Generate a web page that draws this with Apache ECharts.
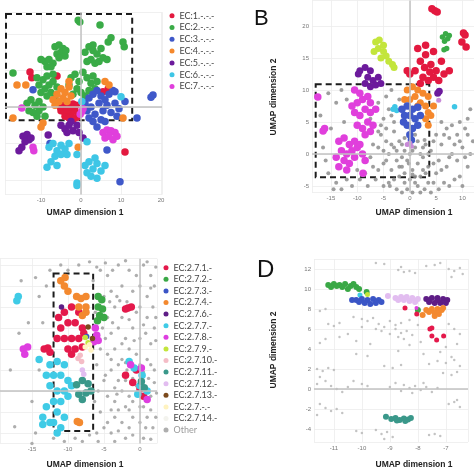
<!DOCTYPE html>
<html>
<head>
<meta charset="utf-8">
<script src="https://cdn.jsdelivr.net/npm/echarts@6/dist/echarts.min.js"></script>
<style>
  html, body { margin: 0; padding: 0; background: #fff; }
  #chart { width: 474px; height: 474px; }
</style>
</head>
<body>
<div id="chart"></div>
<script>
// ---- panel A : EC top level classes ----
const namesA = ['EC:1.-.-.-', 'EC:2.-.-.-', 'EC:3.-.-.-', 'EC:4.-.-.-', 'EC:5.-.-.-', 'EC:6.-.-.-', 'EC:7.-.-.-'];
const colorsA = ['#e3193f', '#3aab47', '#3f58c9', '#f5882c', '#6c1a9c', '#3ec6e6', '#e03fdc'];
const a1 = [[-5, -1], [-4.5, 0.5], [-4, -2.5], [-3.5, 1], [-3, -0.5], [-2.5, -2], [-2, 0.8], [-1.5, -1], [-1, -2.8], [-4, -1.5], [-3, -3], [-2, -3.5], [-5.2, 0], [-1.2, 0.5], [-3.5, -0.8], [-2.5, 0],
  [-12.75, 9.6], [-12.3, 8], [6.8, 5], [11, -12.3], [5.5, 4.2], [-6, 8.5]];
const a2 = [[-6.5, 16.5], [-5.5, 17], [-4.5, 16], [-5, 15], [-6, 14.5], [-4, 14], [-5.5, 13.5], [-3.8, 15.5],
  [-9, 12.5], [-8, 13], [-7, 12], [-8.5, 11], [-7.5, 11], [-10, 13],
  [1, 15], [2, 16.5], [3, 15.5], [4, 14.5], [5, 16], [2.5, 13], [3.5, 12], [1.5, 12.5], [4.5, 12.5], [5.5, 13.5], [3, 17],
  [-10.5, 6], [-9.5, 7.5], [-8.5, 8.5], [-9, 5], [-8, 6], [-7, 7], [-6, 5.5], [-7.5, 4], [-8.5, 3], [-10, 4], [-6.5, 3], [-11, 8], [-7, 9],
  [-2.5, 8], [-1.5, 9], [-0.5, 7], [0.5, 9.5], [1.5, 8], [2.5, 6.5], [3.5, 5], [-1, 5], [0, 4], [1, 3], [2, 4.5], [-2, 3.5], [3, 8.5], [4, 7], [-3, 6],
  [-13.5, 1], [-12.5, 2], [-11.5, 0.5], [-10.5, -1], [-9.5, 0], [-12, -1.5], [-10.5, 1.5], [-9, -2.5], [-13, -1], [-11, -2.5],
  [-0.7, 23.8], [-0.3, 23.3], [4.75, 22.5], [6.8, 17.8], [10.5, 17.8], [10.8, 16.5], [6.5, 13], [-17, 9.3], [7.5, 19]];
const a3 = [[1, 1], [2, 2.5], [3, 3.5], [4, 4.5], [5, 3], [6, 2], [7, 3.5], [8, 4.5], [1.5, -1], [2.5, 0], [3.5, -2], [4.5, 1], [5.5, -1], [6.5, 0.5], [7.5, -1.5], [8.5, 1], [9.5, -0.5], [3, -4], [4, -5.5], [5, -3.5], [2, -3], [6, -4],
  [-12, 4.7], [8.5, 4.2], [14, -3], [6.5, -11.8], [-7.75, -10], [9.75, -20.5], [18, 3.3], [17.5, 2.7], [9, -2.5], [11, 1.5]];
const a4 = [[-7, 2], [-6, 3.5], [-5, 5], [-4, 4], [-3, 5.5], [-5.5, 1.5], [-4.5, 2.5], [-3.5, 1.5], [-2.5, 3], [-6.5, 0.5], [-3, 7],
  [-16, 6], [-13.8, 6], [-17, -3], [-9.5, -4.4], [-0.7, -11], [6, 7], [10.5, -3], [-10, -5.5], [7, 6]];
const a5 = [[-5, -5], [-4, -6], [-3, -5], [-2, -6.5], [-1, -5], [-3.5, -7], [-0.5, -7], [-2.5, -4],
  [-14.5, -8], [-13.5, -7.5], [-13, -9], [-14, -9.5], [-12.5, -8.5],
  [-8.2, -7.7], [-14.8, -11], [-15.5, -12], [0.5, -8.5]];
const a6 = [[-8, -11], [-7, -10], [-6, -12], [-5, -10.5], [-4, -11.5], [-3, -10], [-6.5, -13.5], [-5, -13], [-7.5, -15], [-8.5, -16.5], [-6, -16], [-3.5, -13],
  [1, -16], [2, -15], [3, -17], [4, -15.5], [5, -17.5], [6, -16], [2.5, -19], [4, -19.5], [3.5, -14], [1.5, -18],
  [-1, -20.8], [-1, -21.5], [0.2, 1.5], [1.5, -9.5], [10, 2.8], [-1, -13]];
const a7 = [[5.5, -7], [6.5, -6.3], [7.5, -6.5], [8.5, -7], [6, -8.5], [7, -8], [8, -9], [9, -8],
  [-12, -11], [-11.8, -12], [0.2, -1.3], [0.5, -0.5], [-0.2, -2], [-14.8, -0.3]];
const boxA = [[-18.75, 25.5], [12.8, -3.6]];

// ---- panel B ----
const bGray = [[-3, 1], [-2, 2], [-1, 0.5], [0, 0], [1, 1], [2, 0], [3, 1.5], [-2.5, -1], [-1.5, -2], [-0.5, -1], [0.5, -2.5], [1.5, -1.5], [2.5, -0.5], [3.5, -2], [-3.5, -2.5], [-4, 0], [-1, 2.5], [1, 3], [-2, -3.5], [0, -4], [2, -3.5], [4, 0.5], [-4.5, 2], [-3, 3.5], [-5, -1.5], [-6, 1], [-5.5, 3], [-7, -2], [-6.5, -4], [-4, -4.5], [-2.5, -5.5], [-0.5, -5.5], [1.5, -5], [3.5, -4.5], [5, -3], [5.5, -1], [6, 1.5], [5, 3], [7, -2], [8, 0], [7.5, 2.5], [9, -1], [10, 1], [11, -2], [9, 3], [8, 4.5], [10.5, 4], [11, 5.5], [6.5, -4.5], [8.5, -4], [10, -5], [4, -6], [-8, -5], [-9.5, -4], [-11, -5], [-14, -4.5], [-16, -1], [-15, 4], [-14, 8], [-12.5, 5], [-13, 10], [-17, 6], [-5, 5.5], [-4, 7], [-6, 8], [-3.5, 10], [-14.5, -5.5], [-3, 5], [-5.5, 4.5], [0.5, -3.2], [-1.5, 1.5], [2.8, 2.2], [4.5, -1.5], [-0.2, -1.5], [12, 2], [11.5, 7], [6, 5], [2, -6],
  [-2.5, 0.5], [-1.5, -0.5], [-0.5, 1.5], [0.5, 0.5], [1.5, 2], [2.5, 1], [3.5, 0], [-3.5, 1.5], [-2, -2], [-1, -3], [1, -3.5], [2.5, -2.5], [-1, -4.5], [1, -4.5], [-3, -4], [3, -3], [-4.5, -1], [-5, 0.5], [-3.8, -5], [-1.5, -6], [0.5, -6], [2.8, -5.5], [4.5, -4.5], [6, -2.5], [7.5, -0.5], [6.5, 3], [4.5, 2], [8.5, 1.5], [9.5, 2], [10.5, -0.5], [11.5, 0], [9.5, -3.5], [7.5, -5], [5.5, -5.5], [-6, -2.5], [-7.5, -0.5], [-8.5, -3], [-10, -2.5], [-5, -5], [-7, 1.5], [-7.5, 5.5], [-6, 3.5], [-4.5, 4], [-3.5, 6], [-2, 8.5], [-4.5, 9], [-12, -4], [-13, -5.5], [-15.5, -3], [-12, 8.5], [-15.5, 9.5], [-16.5, 1], [9.5, 5], [7, 4], [11, 3]];
const bRed = [[4.75, 22.4], [4.2, 22.7], [5.2, 22.2], [10.5, 18.6], [9.9, 17.5], [10.7, 16.7], [10.2, 18.9],
  [1, 13], [2, 14.5], [3, 15.5], [4, 14], [5, 13], [6, 14.5], [2.5, 12], [3.5, 11.5], [4.5, 12], [5.5, 11.5], [1.5, 16.5], [3, 17], [4.5, 16], [6.5, 12.5], [7.5, 13], [-0.5, 13], [0, 12.5], [2, 11], [3.8, 12.8], [2.8, 13.5]];
const bGreen = [[6.2, 18.3], [6.8, 18.8], [7.2, 18], [6.6, 17.6], [7.5, 18.5], [7, 16.5], [6.5, 16.3]];
const bLime = [[-6.5, 17.5], [-5.8, 17.8], [-6, 16.5], [-5, 16], [-5.5, 15], [-4.5, 15.3], [-4, 14.5], [-3.3, 14], [-6.8, 16], [-3, 13.5], [-5, 17]];
const bPurple = [[-9.5, 13], [-8.5, 13.5], [-7.5, 13], [-8, 12], [-7, 11.5], [-6, 12], [-8.5, 11], [-7.5, 10.5], [-6.5, 10.8], [-9.8, 12.5], [-5.5, 11], [5.3, 9.5], [5.6, 9.8]];
const bOrange = [[-0.5, 10], [0.5, 10.5], [1.5, 10], [2.5, 9.5], [-1, 8.5], [0, 8.5], [1, 9], [2, 8], [3, 7.5], [3.5, 9], [1.5, 7.5], [3.5, 6.5], [3, 5.5], [4, 6], [4.5, 7.5], [3.5, 4.5]];
const bCyan = [[-2.85, 7.4], [-3.2, 7], [-2.5, 6.8], [8.5, 7.4]];
const bBlue = [[-1.5, 7], [-0.5, 7.5], [0.5, 7], [1.5, 7.3], [-1, 6], [0, 6], [1, 5.5], [2, 6], [-0.5, 4.5], [0.5, 4], [1.5, 4.5], [0, 3], [0.3, 2.2], [-1.2, 5]];
const bLilac = [[0, 1.7], [0.3, 1.2], [-0.5, 1.5], [5.5, 8.4]];
const bMagenta = [[-10.5, 10], [-9.5, 9.5], [-10, 8], [-9, 8.5], [-8, 9], [-7.5, 8], [-10.5, 6.5], [-9.5, 6], [-8.5, 7], [-7.5, 6.5], [-6.5, 7], [-10, 4.5], [-9, 4], [-8, 5], [-7, 4.5], [-8.5, 3], [-7.5, 3.5], [-11, 7.5],
  [-13.5, 2], [-12.5, 2.5], [-11.5, 1.5], [-10.5, 2], [-13, 0.5], [-12, 0], [-11, 0.5], [-10, 1], [-12.5, -1], [-11.5, -1.5], [-10.5, -0.5], [-9, 0], [-13.5, -2], [-12, -2.5], [-9.5, 1.5], [-14, -0.5], [-8.5, -1],
  [-17.5, 8.9], [-16.2, 4], [-16.5, 3.6], [-8.9, -3]];
const boxB = [[-17.9, 10.9], [3.7, -3.65]];

// ---- panel C : EC:2.7 sub-classes ----
const namesC = ['EC:2.7.1.-', 'EC:2.7.2.-', 'EC:2.7.3.-', 'EC:2.7.4.-', 'EC:2.7.6.-', 'EC:2.7.7.-', 'EC:2.7.8.-', 'EC:2.7.9.-', 'EC:2.7.10.-', 'EC:2.7.11.-', 'EC:2.7.12.-', 'EC:2.7.13.-', 'EC:2.7.-.-', 'EC:2.7.14.-', 'Other'];
const colorsC = ['#e4194b', '#3aa846', '#3a55c6', '#f3892f', '#5e1d86', '#3fcbe6', '#de3ee0', '#c3e53c', '#f4bcc6', '#3a988a', '#e2bdf0', '#7b4a1c', '#fff3c0', '#f3f3ee', '#b5b5b5'];
const c1 = [[-11.3, 7], [-10.5, 7.5], [-9.5, 8], [-8.5, 7.5], [-11, 6], [-10, 6.5], [-9, 6.5], [-8, 6], [-10.5, 5], [-9.5, 5], [-8.5, 5], [-7.8, 5.5], [-10, 4], [-9, 4], [-8, 4.2], [-9.5, 3.5], [-11.5, 5],
  [-12.8, 4.1], [-13.3, 4], [-12.5, 3.7], [-1.65, 7.9], [-1.2, 8], [-2, 7.8], [-2, 1.5], [-1, 0.8], [0, 0.2], [-0.5, 2], [0.5, -0.5]];
const c2 = [[-5.8, 9], [-5.3, 8.7], [-5.8, 8], [-5.2, 7.8], [-5.6, 7.2], [-5, 7], [-5.9, 6.7]];
const c3 = [[-7.4, 5.2]];
const c4 = [[-11, 10.5], [-10.5, 10], [-10, 9.5], [-10.4, 10.8], [-8.8, 9], [-8.2, 8.8], [-7.5, 9], [-8.5, 8], [-7.5, 8], [-8, 7.2], [-7.5, 7.5], [-8.7, -2.9], [-8.4, -3]];
const c6 = [[-10.9, 8.0]];
const c7 = [[-16.9, 9], [-17.1, 8.6], [-12.5, 2.5], [-11.5, 2.8], [-10.5, 2.5], [-12, 1.5], [-11, 1.5], [-10, 1], [-12.5, 0.5], [-11.5, 0], [-10.5, 0], [-9.5, 0.5], [-12, -1], [-11, -1], [-10, -0.5], [-13, 1.5], [-11.5, -2], [-10.5, -2.5], [-13, -1.5], [-13.5, -2.5], [-12.5, -3], [-13.5, -3.2], [-11, -3.5], [-11.5, -4], [-12, -3], [-14, 3],
  [-1.5, 2.8], [-0.8, 2.2], [0.3, 1.5], [0, 0.5], [-0.3, -0.3], [1, 0]];
const c8 = [[-6.2, 6], [-6, 5.3], [-6.4, 4.7], [-5.8, 4.8], [-16.2, 4], [-15.6, 4.2], [-16, 3.5], [-1.3, 2.5], [0.2, 2.2], [1, -0.8]];
const c9 = [[-7.6, 5.1], [-7.2, 4.6]];
const c10 = [[-8.3, 3.4], [-8.1, 2.8], [-8.6, 3.1]];
const c11 = [[-8.8, 0.6], [-8, 1], [-7.2, 0.7], [-8.5, -0.3], [-7.5, -0.2], [-6.8, 0], [-8, -0.8], [0.2, 0.9], [0.6, 0.3]];
const c12 = [[-8, 2], [-7.8, 1.6]];
const c13 = [[-7.2, 6.1], [-6.6, 5.0]];
const cDash = [[-7.6, 4.2], [-7, 4.4], [-6.8, 3.9]];
const c14 = [];
const cOther = [[-4.5, 11], [-3, 12], [-1.5, 11.5], [0.5, 12], [1.5, 11], [-4, 9.5], [-2.5, 10], [-1, 9.5], [1, 9], [2, 10], [-4.5, 7], [-3.5, 8], [-2.5, 7], [-0.5, 7.5], [1, 7], [2, 6], [-4, 5.5], [-3, 6], [-2, 5], [-1, 6], [0, 5], [1.5, 4.5], [-4.5, 3.5], [-3.5, 4], [-2.5, 3], [-1.5, 4], [-0.5, 3.5], [1, 3], [2, 2], [-4, 2], [-3, 1], [-2.5, 0], [-1.5, -0.5], [-3.5, -1], [-4.5, -0.5], [-2, -1.5], [-1, -1], [0.5, -1.5], [1.5, -0.5], [2, 0.8], [-3.5, -2.5], [-2.5, -3], [-1, -2.5], [0, -3], [1, -2.5], [-4, -4], [-2, -4.5], [0.5, -4.5], [1.8, -3.5], [-5.5, -2], [-5, 1], [-5.5, 4], [-5, 9], [-5.5, 11.5], [-3, 2.5], [-2, 1], [-0.5, 0.5], [0.5, 1.8], [-3.2, -0.3], [-1.8, 2],
  [-4.8, 12.2], [-3.8, 11.5], [-2, 12.4], [-0.5, 11], [1, 12.3], [2.2, 11.8], [-3.2, 9], [-1.8, 8.5], [0, 10], [1.5, 9.8], [-4.2, 8.5], [-2.8, 8.6], [0, 8], [1.8, 8], [-3.8, 6.5], [-1.5, 6.8], [0.5, 6.3], [2.2, 7], [-4.8, 5], [-2.5, 4.5], [-0.8, 4.8], [0.8, 5.5], [2.2, 4.8], [-4, 3], [-2, 2.7], [0, 2.5], [1.5, 2.5], [-4.8, 1.5], [-3.5, 0.3], [-1, 1.2], [1.2, 1.2], [2.3, -0.2], [-4, -1.8], [-3, -1.8], [-1.5, -1.8], [0, -1.5], [1.5, -1.8], [-4.5, -3], [-3, -3.8], [-1.5, -3.5], [0.8, -3.5], [2.2, -2.5], [-3.5, -4.8], [-1, -4.2], [1.5, -4.6], [-5.2, 6], [-5, -3.5], [-5.8, 0], [-6, 2.5], [-6.2, 7.5], [-6.3, -1],
  [-13, 10], [-14, 9], [-15.5, 6.5], [-13.5, 6.5], [-17.4, -3.4], [-7, 12.3], [-8.5, 12], [-10, 11.5], [-12, -4.5], [-15, -5], [-9, -4.5], [-6, -4], [-6.5, 10.5], [-14, 2], [-6, 11.8],
  [-16.5, 10.5], [-14.5, 10.8], [-12.5, 11.5], [-11, 12], [-16.8, 5.5], [-18, 2], [-15, -1], [-14.5, -4], [-10.5, -4.8], [-8, -4.8], [-7, -4.2], [-5.8, -4.8]];
const boxC = [[-12.0, 11.2], [-6.5, -3.8]];

// ---- panel D ----
const dGray = [[-9.5, 12.6], [-9.2, 12.5], [-8.7, 11.9], [-8.5, 11.7], [-8.3, 11.8], [-8.1, 11.6], [-7.7, 12.3], [-7.4, 12.4], [-7.2, 12.6], [-6.9, 12], [-6.7, 11.8], [-6.5, 12.1], [-6.4, 11.5], [-6.8, 11.2], [-8.6, 12.2],
  [-11.2, 6.5], [-11, 6.3], [-10.8, 6.6], [-11.5, 7.8], [-11.3, 8],
  [-10.3, 7.2], [-10, 7.0], [-9.8, 6.8], [-9.6, 7.1], [-9.4, 6.5], [-9.2, 6.2], [-9, 6.8], [-8.8, 6.0], [-8.6, 5.6], [-8.5, 5.0], [-8.4, 5.8], [-8.2, 5.4], [-8.7, 5.2], [-9, 5.5], [-9.3, 5.8], [-10.5, 5.5], [-10.8, 5.2], [-11.3, 5.0], [-11.5, 4.6], [-10.2, 4.8], [-9.7, 4.5], [-8.3, 4.4], [-7.9, 4.7], [-8.0, 6.4], [-8.8, 6.4], [-9.5, 6.0], [-10.0, 6.2], [-8.6, 6.6], [-8.3, 6.9], [-6.9, 6.5], [-6.7, 6.0], [-6.5, 5.5], [-7, 4.2], [-6.6, 4.5],
  [-10.2, 3.5], [-9.8, 3.3], [-8.7, 3.8], [-7.8, 3.5], [-7.2, 3.7], [-6.8, 3.2], [-9.2, 2.3], [-8.9, 2.1], [-8.6, 2.4], [-7.6, 2.5], [-7.3, 2.8], [-7, 2.6], [-6.7, 2.9], [-6.5, 2.3], [-7.1, 1.6], [-6.8, 1.4], [-6.6, 1.7],
  [-11.6, 2], [-11.4, 1.8], [-11.2, 2.1], [-11, 1.9], [-11.5, 1.2], [-11.3, 0.8], [-11.1, 0.3], [-10.9, 0], [-10.7, -0.3], [-10.5, 0.2], [-11.6, 0.5], [-10.3, 0.8], [-10, 0.5], [-9.8, 0.3],
  [-8.5, 0.4], [-8.3, 0.1], [-8.1, 0.3], [-7.9, -0.1], [-7.7, 0.2], [-8.2, -0.4], [-7.8, 0.6], [-8.6, -0.2], [-7.5, -0.3], [-7.3, 0.1], [-9, 0.2], [-8.8, 0.6],
  [-11.5, -1.5], [-11.3, -1.9], [-11.1, -2.2], [-10.9, -2.0], [-10.7, -2.4], [-11.6, -2.6], [-6.9, -1.5], [-6.7, -1.3], [-6.5, -1.8], [-6.6, -1.1],
  [-9.5, -4.1], [-9.3, -4.5], [-9.1, -4.3], [-8.9, -4.8], [-9.2, -5], [-10.2, -4.2], [-10, -4.4], [-7.6, -4.6], [-7.4, -4.5], [-7.2, -4.7]];
const dGreen = [[-11.2, 10.4], [-11, 10.5], [-10.8, 10.4], [-10.6, 10.5], [-10.4, 10.3], [-10.2, 10.2], [-11.1, 10.2], [-10.7, 10.2], [-10.3, 10.5], [-10.1, 10], [-10.5, 10], [-10.9, 10.3], [-9.83, 9.7], [-8.0, 7.9]];
const dCyan = [[-10.07, 9.4]];
const dLime = [[-9.8, 9.45]];
const dBlue = [[-10.2, 8.9], [-10, 9], [-9.8, 8.9], [-9.6, 9], [-9.4, 8.9], [-9.3, 8.7], [-9.5, 8.6], [-9.7, 8.5], [-9.9, 8.6], [-10.1, 8.7], [-10.35, 8.9]];
const dLilac = [[-9.07, 9.3], [-8.8, 9.1], [-8.6, 9.2], [-8.4, 9.2], [-8.2, 9.1], [-8, 9], [-8.3, 8.8], [-8.5, 8.9], [-8.7, 8.9], [-8.1, 8.7]];
const dPurple = [[-7.7, 9], [-7.5, 9.1], [-7.3, 9.1], [-7.1, 9], [-6.95, 8.9], [-7.2, 8.6], [-7.4, 8.6], [-7.6, 8.7], [-7.0, 8.6], [-7.3, 8.9]];
const dOrange = [[-7.7, 7.9], [-7.5, 8], [-7.3, 8], [-7.15, 7.9], [-7.4, 7.6], [-7.6, 7.7], [-7.25, 7.5], [-7.4, 7.3], [-7.83, 7.4], [-7.1, 8.1]];
const dRed = [[-8.46, 8.1], [-8.04, 7.5], [-7.5, 6.1], [-7.57, 6.0], [-7.5, 5.3], [-7.33, 4.9], [-7.08, 5.3]];
const dMagenta = [[-8.05, 8.1]];
const dTeal = [[-9.14, -2.77], [-8.95, -3], [-8.8, -2.9], [-8.65, -3.1], [-8.5, -2.95], [-8.35, -3.05], [-8.25, -2.9], [-8.75, -3.15], [-8.45, -3.2]];

function sc(name, data, color, gi, size, opacity) {
  return {
    name: name, type: 'scatter', xAxisIndex: gi, yAxisIndex: gi, data: data,
    symbolSize: size, silent: true,
    itemStyle: { color: color, opacity: opacity || 1 }
  };
}
function zeroLines(both) {
  return {
    silent: true, symbol: 'none', label: { show: false },
    lineStyle: { color: '#c2c2c2', width: 1.5, type: 'solid' },
    data: both ? [{ xAxis: 0 }, { yAxis: 0 }] : [{ yAxis: 0 }]
  };
}
function box(b) {
  return {
    silent: true, label: { show: false },
    itemStyle: { color: 'rgba(0,0,0,0)', borderColor: '#1c1c1c', borderWidth: 2, borderType: [6, 4] },
    data: [[{ coord: b[0] }, { coord: b[1] }]]
  };
}

const dataA = [a1, a2, a3, a4, a5, a6, a7];
const dataC = [c1, c2, c3, c4, c6, c7, c8, c9, c10, c11, c12, c13, cDash, c14, cOther];

let series = [];
// A
dataA.forEach(function (d, i) { series.push(sc(namesA[i], d, colorsA[i], 0, 7.5)); });
series[0].markLine = zeroLines(true);
series[0].markArea = box(boxA);
// B
let bFirst = series.length;
series.push(sc('B gray', bGray, '#8d8d8d', 1, 4, 0.85));
series.push(sc('B red', bRed, colorsA[0], 1, 7.5));
series.push(sc('B green', bGreen, colorsA[1], 1, 5.5));
series.push(sc('B lime', bLime, '#c3e53c', 1, 7));
series.push(sc('B purple', bPurple, colorsA[4], 1, 7));
series.push(sc('B orange', bOrange, colorsA[3], 1, 7));
series.push(sc('B cyan', bCyan, colorsA[5], 1, 5.5));
series.push(sc('B blue', bBlue, colorsA[2], 1, 7.5));
series.push(sc('B lilac', bLilac, '#c88ad8', 1, 5));
series.push(sc('B magenta', bMagenta, colorsA[6], 1, 7.5));
series[bFirst].markLine = zeroLines(true);
series[bFirst].markArea = box(boxB);
// C : gray first, then coloured
let cFirst = series.length;
series.push(sc('Other', cOther, '#9a9a9a', 2, 3.4, 0.8));
dataC.forEach(function (d, i) {
  if (namesC[i] === 'Other') return;
  let small = d.length < 4 ? 5.5 : 7.5;
  series.push(sc(namesC[i], d, colorsC[i], 2, small));
});
series[cFirst].markLine = zeroLines(true);
series[cFirst].markArea = box(boxC);
// D
let dFirst = series.length;
series.push(sc('D gray', dGray, '#b4b4b4', 3, 2.5, 0.8));
series.push(sc('D green', dGreen, colorsC[1], 3, 6));
series.push(sc('D cyan', dCyan, colorsC[5], 3, 5));
series.push(sc('D lime', dLime, colorsC[7], 3, 5));
series.push(sc('D blue', dBlue, colorsC[2], 3, 6));
series.push(sc('D lilac', dLilac, colorsC[10], 3, 6));
series.push(sc('D purple', dPurple, colorsC[4], 3, 6));
series.push(sc('D orange', dOrange, colorsC[3], 3, 6));
series.push(sc('D red', dRed, colorsC[0], 3, 5));
series.push(sc('D magenta', dMagenta, colorsC[6], 3, 4));
series.push(sc('D teal', dTeal, colorsC[9], 3, 6));
series[dFirst].markLine = zeroLines(false);

function axis(gi, min, max, showLabels, splitNumber) {
  return {
    gridIndex: gi, type: 'value', min: min, max: max, splitNumber: splitNumber || 5,
    axisLine: { show: false }, axisTick: { show: false },
    splitLine: { lineStyle: { color: '#ececec', width: 0.8 } },
    axisLabel: {
      show: showLabels, fontSize: 6, color: '#777', margin: 3,
      fontFamily: 'Liberation Sans', showMinLabel: false, showMaxLabel: false
    }
  };
}

const titleFont = { fontFamily: 'Liberation Sans', fontWeight: 'bold', fontSize: 8.5, fill: '#222', textAlign: 'center', textVerticalAlign: 'middle' };
function label(text, x, y, rot) {
  return { type: 'text', x: x, y: y, rotation: rot || 0, style: Object.assign({ text: text }, titleFont) };
}

let option = {
  animation: false,
  backgroundColor: '#fff',
  grid: [
    { left: 5, top: 12.1, width: 157, height: 182.5 },
    { left: 312, top: 0.4, width: 162, height: 192 },
    { left: 0, top: 258.7, width: 157, height: 184.8 },
    { left: 314, top: 259, width: 154, height: 183 }
  ],
  xAxis: [
    axis(0, -19, 20.25, true),
    axis(1, -18.6, 12.2, true),
    axis(2, -19.44, 2.37, true),
    axis(3, -11.71, -6.21, true)
  ],
  yAxis: [
    axis(0, -24, 26, false),
    axis(1, -6, 24, true),
    axis(2, -5, 12.6, false, 8),
    axis(3, -5.3, 13, true, 9)
  ],
  legend: [
    {
      data: namesA, orient: 'vertical', left: 169.5, top: 9.8, padding: 0, itemGap: 0,
      icon: 'circle', itemWidth: 5, itemHeight: 5, selectedMode: false,
      textStyle: { fontSize: 9, lineHeight: 11.8, color: '#444', fontFamily: 'Lato' }
    },
    {
      data: namesC.map(function (n) { return n === 'Other' ? { name: n, textStyle: { color: '#9a9a9a' } } : n; }),
      orient: 'vertical', left: 163.5, top: 261.9, padding: 0, itemGap: 0,
      icon: 'circle', itemWidth: 5, itemHeight: 5, selectedMode: false,
      textStyle: { fontSize: 9, lineHeight: 11.6, color: '#444', fontFamily: 'Lato' }
    }
  ],
  graphic: [
    { type: 'text', left: 254, top: 8, style: { text: 'B', fontSize: 22, fontFamily: 'Liberation Sans', fill: '#111' } },
    { type: 'text', left: 257, top: 258, style: { text: 'D', fontSize: 24, fontFamily: 'Liberation Sans', fill: '#111' } },
    label('UMAP dimension 1', 85, 213),
    label('UMAP dimension 1', 414, 213),
    label('UMAP dimension 1', 85, 465),
    label('UMAP dimension 1', 414, 465),
    label('UMAP dimension 2', 274, 97, Math.PI / 2),
    label('UMAP dimension 2', 274, 350, Math.PI / 2)
  ],
  series: series
};

let myChart = echarts.init(document.getElementById('chart'));
myChart.setOption(option);
</script>
</body>
</html>
